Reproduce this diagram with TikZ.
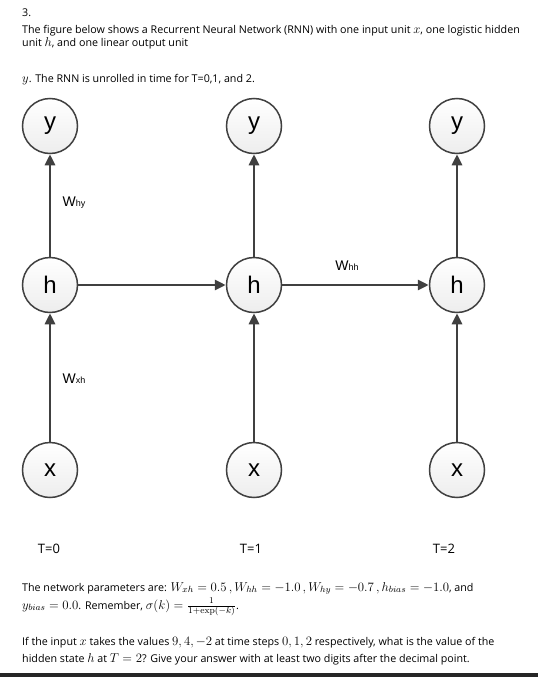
\RequirePackage{fix-cm}
\documentclass[tikz,border=0pt]{standalone}
\usepackage[no-math]{fontspec}
\setmainfont{Open Sans}
\newfontfamily\nodefont{Liberation Sans}
\usetikzlibrary{arrows.meta}
\definecolor{ink}{HTML}{404040}
\tikzset{
  unit/.style={circle, draw=ink, line width=1.5pt, minimum size=55pt, inner sep=0pt,
    top color=white, bottom color=gray!14, font=\nodefont\fontsize{24}{24}\selectfont},
  conn/.style={draw=ink, line width=2.9pt, -{Triangle[length=11pt,width=10pt]}},
  wlabel/.style={font=\nodefont\fontsize{14}{14}\selectfont, inner sep=0pt},
  tlabel/.style={font=\fontsize{13}{13}\selectfont, inner sep=0pt},
  body/.style={font=\fontsize{10.7}{13}\selectfont, inner sep=0pt, anchor=base west},
}
\newcommand{\wsub}[1]{W{\fontsize{9}{9}\selectfont #1}}
\newcommand{\mm}[1]{{\fontsize{12.8}{13}\selectfont$#1$}}
\begin{document}
\begin{tikzpicture}[x=1pt,y=-1pt]
\useasboundingbox (0,0) rectangle (538,677);
\fill[white] (0,0) rectangle (538,677);
% header text
\node[body] (n3) at (22,17) {3.};
\node[body] (l1) at (22,34) {The figure below shows a Recurrent Neural Network (RNN) with one input unit \mm{x}, one logistic hidden};
\node[body] (l2) at (22,47) {unit \mm{h}, and one linear output unit};
\node[body] (l3) at (22,82) {\mm{y}. The RNN is unrolled in time for T=0,1, and 2.};
% nodes
\foreach \i/\xx in {0/50,1/254,2/457}{
  \node[unit] (y\i) at (\xx,126) {y};
  \node[unit] (h\i) at (\xx,285) {h};
  \node[unit] (x\i) at (\xx,470) {x};
}
\foreach \i in {0,1,2}{
  \draw[conn] (x\i) -- (h\i);
  \draw[conn] (h\i) -- (y\i);
}
\draw[conn] (h0) -- (h1);
\draw[conn] (h1) -- (h2);
% weight labels
\node[wlabel] (why) at (74,203) {\wsub{hy}};
\node[wlabel] (wxh) at (74,379) {\wsub{xh}};
\node[wlabel] (whh) at (347,266) {\wsub{hh}};
% time labels
\node[tlabel] (t0) at (49,549) {T=0};
\node[tlabel] (t1) at (251,549) {T=1};
\node[tlabel] (t2) at (444,549) {T=2};
% parameters
\node[body] (p1) at (22,591) {The network parameters are: \mm{W_{xh}=0.5\,,W_{hh}=-1.0\,,W_{hy}=-0.7\,,h_{bias}=-1.0}, and};
\node[body] (p2) at (22,609) {\mm{y_{bias}=0.0}. Remember, \mm{\sigma(k)=\smash{\frac{1}{1+\exp(-k)}}}.};
\node[body] (q1) at (22,645) {If the input \mm{x} takes the values \mm{9,4,-2} at time steps \mm{0,1,2} respectively, what is the value of the};
\node[body] (q2) at (22,662) {hidden state \mm{h} at \mm{T=2}? Give your answer with at least two digits after the decimal point.};
% bottom bar
\fill[black!85] (0,673) rectangle (538,677);
\end{tikzpicture}
\end{document}
